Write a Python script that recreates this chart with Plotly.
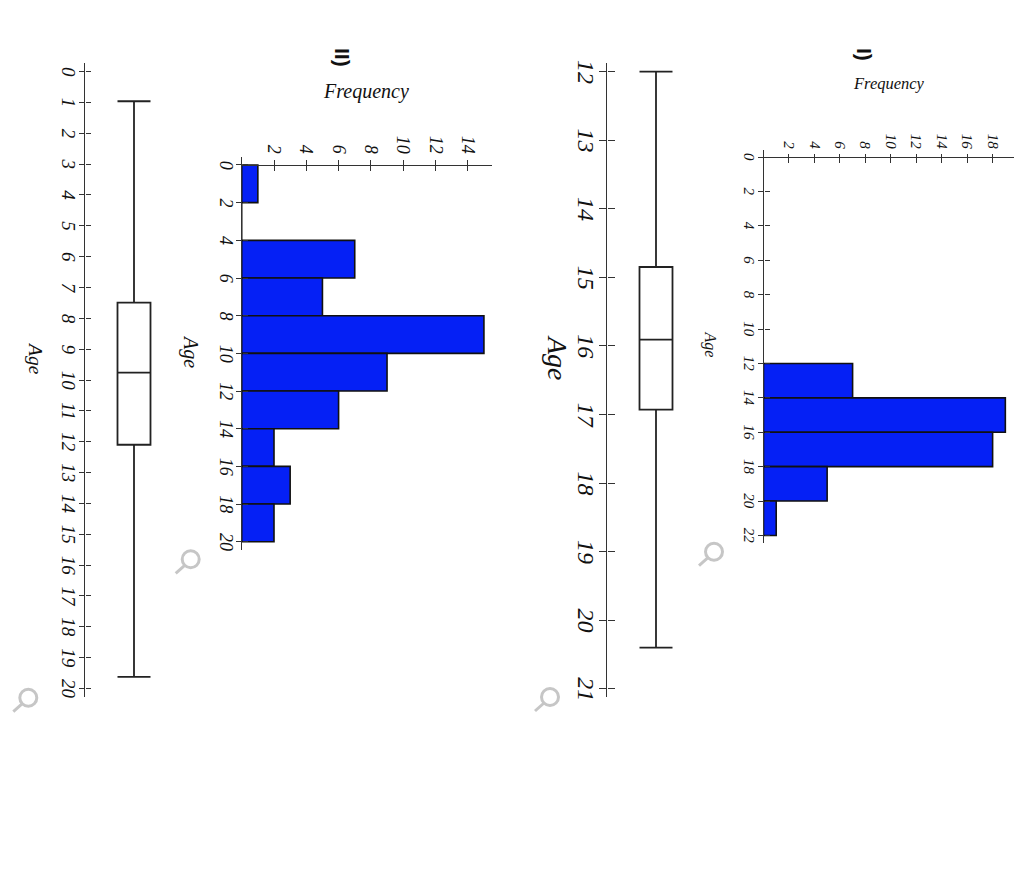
import plotly.graph_objects as go

# Гистограммы: начало интервала и частота
age_bins_1 = [12, 14, 16, 18, 20]
freq_1 = [7, 19, 18, 5, 1]
age_bins_2 = [0, 2, 4, 6, 8, 10, 12, 14, 16, 18]
freq_2 = [1, 0, 7, 5, 15, 9, 6, 2, 3, 2]

# Ящики с усами: минимум, Q1, медиана, Q3, максимум
box_1 = [12.0, 14.85, 15.91, 16.93, 20.4]
box_2 = [0.96, 7.49, 9.76, 12.1, 19.63]

# Подписи осей
hist_1_age_ticks = [0, 2, 4, 6, 8, 10, 12, 14, 16, 18, 20, 22]
hist_1_freq_ticks = [2, 4, 6, 8, 10, 12, 14, 16, 18]
hist_2_age_ticks = [0, 2, 4, 6, 8, 10, 12, 14, 16, 18, 20]
hist_2_freq_ticks = [2, 4, 6, 8, 10, 12, 14]
box_1_ticks = [12, 13, 14, 15, 16, 17, 18, 19, 20, 21]
box_2_ticks = list(range(21))

W, H = 1024, 869
SERIF = 'Liberation Serif'
AXIS_COLOR = '#333333'


def fx(p):
    return p / W


def fy(p):
    return 1 - p / H


def italic_labels(ticks):
    return [f'<i>{t}</i>' for t in ticks]


def y_axes(layout, n, left, top, bottom, age_top, age_bottom, ticks, size, tick_l, tick_r, standoff=0, shift=0):
    # основная ось с подписями и вторая, наложенная, чтобы штрихи шли в обе стороны
    layout[f'yaxis{n}'] = dict(
        domain=[fy(bottom), fy(top)], range=[age_bottom, age_top], anchor=f'x{n}', automargin=False,
        tickvals=ticks, ticktext=italic_labels(ticks), ticks='outside', ticklen=tick_l,
        tickcolor=AXIS_COLOR, tickwidth=1, ticklabelstandoff=standoff, ticklabelshift=shift,
        showline=True, linecolor=AXIS_COLOR, linewidth=1, showgrid=False, zeroline=False,
        tickangle=90, tickfont=dict(family=SERIF, style='italic', size=size, color='#111111'),
    )
    layout[f'yaxis{n + 4}'] = dict(
        domain=[fy(bottom), fy(top)], range=[age_bottom, age_top], overlaying=f'y{n}', automargin=False,
        side='right', anchor='free', position=fx(left),
        tickvals=ticks, ticks='outside', ticklen=tick_r, tickcolor=AXIS_COLOR, tickwidth=1,
        showticklabels=False, showline=False, showgrid=False, zeroline=False,
    )


def freq_axes(layout, n, left, right, line_y, top_max, ticks, size, tick_up, tick_down):
    layout[f'xaxis{n}'] = dict(
        domain=[fx(left), fx(right)], range=[0, top_max], side='top', anchor='free', automargin=False,
        position=fy(line_y), tickvals=ticks, ticktext=italic_labels(ticks), ticks='outside',
        ticklen=tick_up, tickcolor=AXIS_COLOR, tickwidth=1, showline=True, linecolor=AXIS_COLOR,
        linewidth=1, showgrid=False, zeroline=False, tickangle=90,
        tickfont=dict(family=SERIF, style='italic', size=size, color='#111111'),
    )
    layout[f'xaxis{n + 4}'] = dict(
        domain=[fx(left), fx(right)], range=[0, top_max], overlaying=f'x{n}', side='bottom',
        anchor='free', position=fy(line_y), tickvals=ticks, ticks='outside', ticklen=tick_down,
        tickcolor=AXIS_COLOR, tickwidth=1, showticklabels=False, showline=False,
        showgrid=False, zeroline=False, automargin=False,
    )


def box_x_axes(layout, n, left, half):
    for k in (n, n + 4):
        layout[f'xaxis{k}'] = dict(
            domain=[fx(left), fx(left + 2 * half)], range=[-half / 33, half / 33],
            visible=False, anchor=f'y{k}', automargin=False,
        )
    layout[f'xaxis{n + 4}']['overlaying'] = f'x{n}'


def lens(cx, cy):
    # значок лупы
    color = '#c6c6c6'
    return [
        dict(type='circle', xref='paper', yref='paper', x0=fx(cx - 8.5), x1=fx(cx + 8.5),
             y0=fy(cy + 8.5), y1=fy(cy - 8.5), line=dict(color=color, width=3)),
        dict(type='line', xref='paper', yref='paper', x0=fx(cx - 15), x1=fx(cx - 6),
             y0=fy(cy + 14), y1=fy(cy + 6), line=dict(color=color, width=3)),
    ]


def label(text, x, y, size, angle=0, italic=True, family=SERIF, bold=False):
    return dict(
        text=text, x=fx(x), y=fy(y), xref='paper', yref='paper', showarrow=False,
        textangle=angle, xanchor='center', yanchor='middle',
        font=dict(family=family, size=size, color='#111111',
                  style='italic' if italic else 'normal', weight='bold' if bold else 'normal'),
    )


fig = go.Figure()

bar_style = dict(orientation='h', width=2, offset=0, marker_color='#0520f5',
                 marker_line=dict(color='#111111', width=1.6), showlegend=False)
fig.add_trace(go.Bar(x=freq_1, y=age_bins_1, xaxis='x1', yaxis='y1', **bar_style))
fig.add_trace(go.Bar(x=freq_2, y=age_bins_2, xaxis='x2', yaxis='y2', **bar_style))

box_style = dict(x=[0], width=1, whiskerwidth=1, fillcolor='white', showlegend=False,
                 line=dict(color='#222222', width=1.8))
fig.add_trace(go.Box(lowerfence=[box_1[0]], q1=[box_1[1]], median=[box_1[2]], q3=[box_1[3]],
                     upperfence=[box_1[4]], xaxis='x3', yaxis='y3', **box_style))
fig.add_trace(go.Box(lowerfence=[box_2[0]], q1=[box_2[1]], median=[box_2[2]], q3=[box_2[3]],
                     upperfence=[box_2[4]], xaxis='x4', yaxis='y4', **box_style))

# пустые трассы, чтобы наложенные оси рисовались
for n in (5, 6, 7, 8):
    fig.add_trace(go.Scatter(x=[None], y=[None], xaxis=f'x{n}', yaxis=f'y{n}',
                             showlegend=False, hoverinfo='skip'))

layout = {}
# I) гистограмма
freq_axes(layout, 1, 763.5, 1014, 157, 19.68, hist_1_freq_ticks, 15, 3, 5)
y_axes(layout, 1, 763.5, 150, 543, -0.41, 22.44, hist_1_age_ticks, 15, 5, 5, standoff=-4, shift=-2)
# II) гистограмма
freq_axes(layout, 2, 241.7, 492, 165, 15.5, hist_2_freq_ticks, 18, 5, 5)
y_axes(layout, 2, 241.7, 156.7, 550, -0.44, 20.44, hist_2_age_ticks, 18, 5, 5, standoff=-6, shift=-3)
# I) ящик
box_x_axes(layout, 3, 607.3, 48.7)
y_axes(layout, 3, 607.3, 63.3, 697, 11.88, 21.12, box_1_ticks, 24, 7, 7, standoff=-8, shift=-4)
# II) ящик
box_x_axes(layout, 4, 85, 49)
y_axes(layout, 4, 85, 63.3, 697, -0.27, 20.28, box_2_ticks, 19, 5, 5, standoff=-6, shift=-3)

annotations = [
    label('I)', 864, 54, 21, angle=90, italic=False, family='Liberation Sans', bold=True),
    label('II)', 342.7, 57.7, 21, angle=90, italic=False, family='Liberation Sans', bold=True),
    label('Frequency', 889, 84, 16.5),
    label('Frequency', 366, 92, 20),
    label('Age', 709.5, 344, 16, angle=90),
    label('Age', 191, 351, 20, angle=90),
    label('Age', 558, 358, 28, angle=90),
    label('Age', 36, 358, 19.5, angle=90),
]

shapes = lens(714, 551.7) + lens(190.7, 559.3) + lens(550, 697) + lens(28.3, 697.7)

fig.update_layout(
    width=W, height=H, margin=dict(l=0, r=0, t=0, b=0), autosize=False,
    plot_bgcolor='white', paper_bgcolor='white', showlegend=False,
    annotations=annotations, shapes=shapes, **layout,
)

fig.write_html("out.html", config=dict(displayModeBar=False),
               post_script="document.body.style.margin='0';document.body.style.overflow='hidden';")
